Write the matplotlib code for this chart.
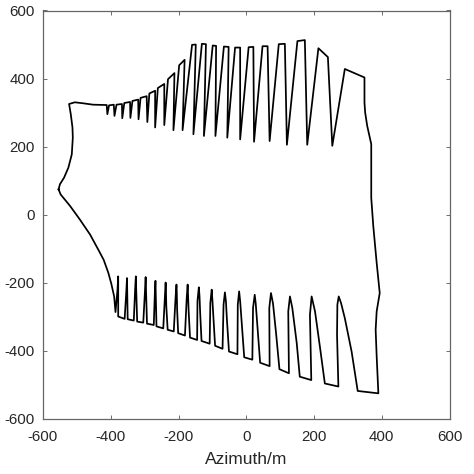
#!/usr/bin/env python3
"""
Azimuth outline traced from the reference picture.
"""

import matplotlib
matplotlib.use('Agg')
import matplotlib.pyplot as plt

plt.rcParams['font.family'] = ['Liberation Sans', 'DejaVu Sans']
plt.rcParams['axes.unicode_minus'] = False

# Outline, walked clockwise from the nose on the left
outline_x = [
    -554, -550, -538, -525, -515, -512, -513, -518, -523, -506, -481, -452, -412,
    -410, -405, -391, -389, -383, -367, -366, -360, -343, -342, -336, -319,
    -318, -312, -294, -292, -286, -269, -269, -261, -242, -242, -231, -212,
    -215, -198, -182, -188, -160, -149, -156, -131, -119, -125, -99, -89,
    -91, -66, -52, -56, -33, -18, -18, 7, 21, 23, 48, 63, 69, 96, 114,
    120, 151, 173, 180, 213, 241, 254, 291, 349, 349, 351, 357, 369, 369, 375, 385,
    394, 385, 382, 385, 390, 329,
    311, 291, 280, 273, 269, 268, 272, 232,
    218, 203, 193, 188, 192, 158,
    149, 136, 129, 124, 126, 98,
    88, 79, 73, 68, 69, 41,
    33, 28, 25, 20, 18, -6,
    -14, -18, -21, -25, -26, -51,
    -57, -60, -63, -67, -70, -92,
    -97, -100, -102, -106, -108, -132,
    -136, -138, -140, -144, -145, -166,
    -170, -172, -173, -176, -181, -201,
    -204, -205, -206, -209, -214, -232,
    -236, -237, -238, -240, -245, -265,
    -268, -270, -273, -293,
    -297, -299, -304, -322,
    -326, -328, -332, -350,
    -352, -354, -359, -378,
    -378, -380, -386, -390, -398, -407, -421, -437, -461, -491, -520, -548, -554,
]
outline_y = [
    74, 89, 108, 138, 177, 226, 256, 295, 325, 330, 327, 323, 322,
    295, 321, 323, 290, 323, 325, 283, 328, 331, 284, 334, 338,
    280, 343, 348, 272, 356, 364, 256, 372, 384, 263, 398, 416,
    248, 439, 455, 248, 499, 500, 236, 502, 501, 231, 497, 496,
    231, 494, 493, 226, 491, 491, 221, 492, 493, 214, 495, 495, 216, 501, 502,
    205, 510, 513, 205, 489, 463, 202, 428, 403, 329, 300, 261, 207, 49, -34, -142,
    -231, -285, -339, -417, -526, -519,
    -403, -305, -261, -241, -265, -354, -506, -497,
    -393, -285, -241, -295, -487, -477,
    -378, -275, -241, -285, -467, -455,
    -349, -262, -231, -275, -446, -436,
    -329, -262, -236, -275, -427, -420,
    -310, -255, -226, -265, -411, -403,
    -310, -255, -229, -265, -395, -386,
    -300, -250, -221, -260, -380, -372,
    -290, -240, -214, -255, -369, -362,
    -285, -232, -206, -250, -356, -349,
    -280, -232, -206, -250, -344, -339,
    -270, -225, -200, -240, -335, -329,
    -195, -235, -325, -321,
    -184, -225, -318, -315,
    -182, -220, -312, -308,
    -187, -225, -307, -300,
    -182, -220, -287, -241, -205, -172, -133, -103, -59, -15, 25, 59, 74,
]

x_ticks = [-600, -400, -200, 0, 200, 400, 600]
y_ticks = [-600, -400, -200, 0, 200, 400, 600]
x_label = 'Azimuth/m'


def main():
    fig = plt.figure(figsize=(4.74, 4.74), dpi=100, facecolor='white')
    ax = fig.add_axes([43 / 474, 55.5 / 474, 406.5 / 474, 408 / 474])

    ax.plot(outline_x, outline_y, color='black', linewidth=1.25, solid_joinstyle='round')

    ax.set_xlim(-600, 600)
    ax.set_ylim(-600, 600)
    ax.set_xticks(x_ticks)
    ax.set_yticks(y_ticks)
    ax.tick_params(direction='in', length=2.8, width=0.6, color='#555555',
                   labelcolor='#262626', labelsize=10.8, top=True, right=True)
    ax.tick_params(axis='x', pad=8)
    ax.tick_params(axis='y', pad=6)
    ax.set_xlabel(x_label, fontsize=12.5, color='#262626', labelpad=6)

    for spine in ax.spines.values():
        spine.set_color('#666666')
        spine.set_linewidth(0.9)

    fig.savefig('out.png', dpi=100, facecolor='white')
    plt.close(fig)


if __name__ == '__main__':
    main()
